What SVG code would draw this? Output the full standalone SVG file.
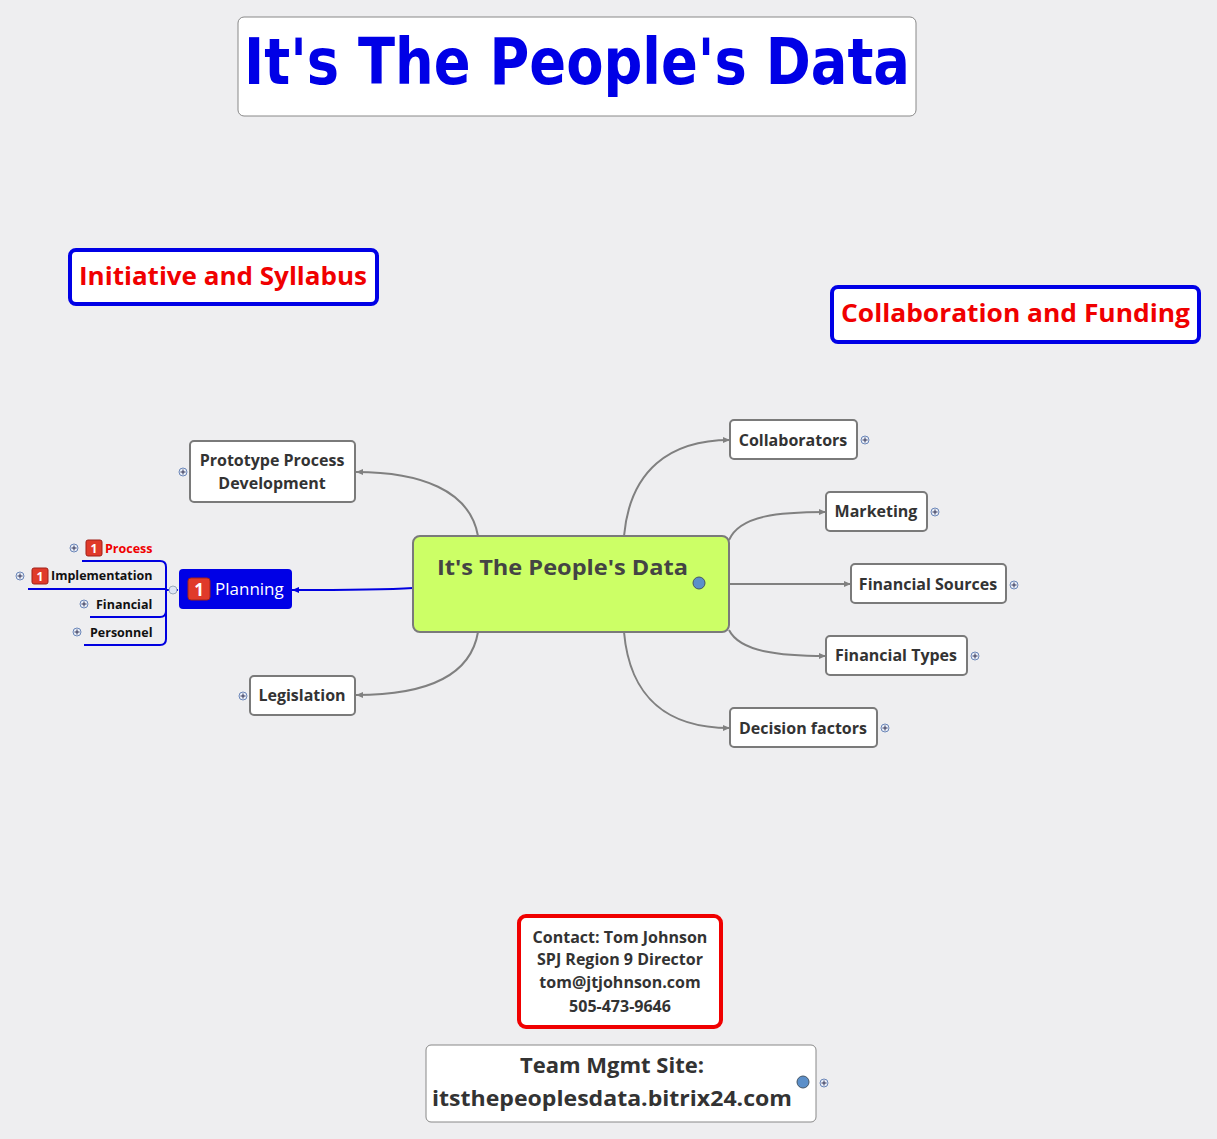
<svg xmlns="http://www.w3.org/2000/svg" width="1217" height="1139" viewBox="0 0 1217 1139">
<style>
text{font-family:"Open Sans","DejaVu Sans",sans-serif;font-weight:bold}
.n{fill:#fff;stroke:#7a7a7a;stroke-width:2}
.t{font-size:16px;fill:#333}
.s{font-size:12.5px;fill:#111}
.c{fill:none;stroke:#808080;stroke-width:2}
.b{fill:none;stroke:#0000e0;stroke-width:2}
.p{fill:#e8eef8;stroke:#6b86b8;stroke-width:1}
.badge{fill:#e03a2a;stroke:#a02018}
</style>
<defs>
<marker id="a" markerWidth="8" markerHeight="8" refX="7" refY="4" orient="auto" markerUnits="userSpaceOnUse"><path d="M0,1 L7,4 L0,7z" fill="#808080"/></marker>
<marker id="ab" markerWidth="8" markerHeight="8" refX="7" refY="4" orient="auto" markerUnits="userSpaceOnUse"><path d="M0,1 L7,4 L0,7z" fill="#0000e0"/></marker>
<g id="plus"><circle r="4" class="p"/><path d="M-2.5,0H2.5M0,-2.5V2.5" stroke="#335" stroke-width="1"/></g>
</defs>
<rect width="1217" height="1139" fill="#eeeef0"/>
<g id="connectors">
<path class="c" d="M478,536 C470,490 420,472 356,472" marker-end="url(#a)"/>
<path class="c" d="M478,632 C470,680 420,695 356,695" marker-end="url(#a)"/>
<path class="c" d="M624,536 C630,470 670,440 730,440" marker-end="url(#a)"/>
<path class="c" d="M729,540 C740,515 780,512 826,512" marker-end="url(#a)"/>
<path class="c" d="M729,584 L851,584" marker-end="url(#a)"/>
<path class="c" d="M729,630 C740,652 780,656 826,656" marker-end="url(#a)"/>
<path class="c" d="M624,632 C630,700 670,728 730,728" marker-end="url(#a)"/>
<path class="b" d="M413,588 C380,590 330,590 292,590" marker-end="url(#ab)"/>
<path class="b" d="M178,590 L166,590 M82,561 H160 Q166,561 166,567 V639 Q166,645 160,645 H84 M28,589 H166 M90,617 H160 Q166,617 166,611"/>
<circle cx="173" cy="590" r="4" fill="#dde6f4" stroke="#9ab"/>
</g>
<g id="title"><rect x="238" y="17" width="678" height="99" rx="6" fill="#fff" stroke="#888"/>
<text x="244" y="84" font-size="64" fill="#0000e6" textLength="666" lengthAdjust="spacingAndGlyphs" style="font-family:'DejaVu Sans',sans-serif">It's The People's Data</text></g>
<g id="initiative"><rect x="70" y="250" width="307" height="54" rx="6" fill="#fff" stroke="#0000e6" stroke-width="4"/>
<text x="79" y="285" font-size="25" fill="#f00000" textLength="288" lengthAdjust="spacingAndGlyphs">Initiative and Syllabus</text></g>
<g id="collab"><rect x="832" y="287" width="367" height="55" rx="6" fill="#fff" stroke="#0000e6" stroke-width="4"/>
<text x="841" y="322" font-size="25" fill="#f00000" textLength="349" lengthAdjust="spacingAndGlyphs">Collaboration and Funding</text></g>
<g id="central"><rect x="413" y="536" width="316" height="96" rx="7" fill="#ccff66" stroke="#7a7a7a" stroke-width="2"/>
<text x="437" y="575" font-size="22" fill="#444" textLength="251" lengthAdjust="spacingAndGlyphs">It's The People's Data</text>
<circle cx="699" cy="583" r="6" fill="#5b8fc9" stroke="#456"/></g>
<g id="prototype"><rect class="n" x="190" y="441" width="165" height="61" rx="4"/>
<text class="t" x="272" y="466" text-anchor="middle">Prototype Process</text><text class="t" x="272" y="489" text-anchor="middle">Development</text><use href="#plus" x="183" y="472"/></g>
<g id="legislation"><rect class="n" x="250" y="676" width="105" height="39" rx="4"/>
<text class="t" x="302" y="701" text-anchor="middle">Legislation</text><use href="#plus" x="243" y="696"/></g>
<g id="planning"><rect x="179" y="569" width="113" height="40" rx="4" fill="#0000e6"/>
<rect class="badge" x="188" y="578" width="22" height="22" rx="3"/><text x="199" y="596" text-anchor="middle" font-size="17" fill="#fff">1</text>
<text x="215" y="595" font-size="17" fill="#fff" style="font-weight:normal">Planning</text></g>
<g id="process"><use href="#plus" x="74" y="548"/><rect class="badge" x="86" y="540" width="16" height="16" rx="2"/><text x="94" y="553" text-anchor="middle" font-size="12" fill="#fff">1</text>
<text x="105" y="553" font-size="12.5" fill="#f00000">Process</text></g>
<g id="implementation"><use href="#plus" x="20" y="576"/><rect class="badge" x="32" y="568" width="16" height="16" rx="2"/><text x="40" y="581" text-anchor="middle" font-size="12" fill="#fff">1</text>
<text class="s" x="51" y="580">Implementation</text></g>
<g id="financial"><use href="#plus" x="84" y="604"/><text class="s" x="96" y="609">Financial</text></g>
<g id="personnel"><use href="#plus" x="77" y="632"/><text class="s" x="90" y="637">Personnel</text></g>
<g id="collaborators"><rect class="n" x="730" y="420" width="127" height="39" rx="4"/><text class="t" x="793" y="446" text-anchor="middle">Collaborators</text><use href="#plus" x="865" y="440"/></g>
<g id="marketing"><rect class="n" x="826" y="492" width="101" height="39" rx="4"/><text class="t" x="876" y="517" text-anchor="middle">Marketing</text><use href="#plus" x="935" y="512"/></g>
<g id="finsources"><rect class="n" x="851" y="564" width="155" height="39" rx="4"/><text class="t" x="928" y="590" text-anchor="middle">Financial Sources</text><use href="#plus" x="1014" y="585"/></g>
<g id="fintypes"><rect class="n" x="826" y="636" width="141" height="39" rx="4"/><text class="t" x="896" y="661" text-anchor="middle">Financial Types</text><use href="#plus" x="975" y="656"/></g>
<g id="decision"><rect class="n" x="730" y="708" width="147" height="39" rx="4"/><text class="t" x="803" y="734" text-anchor="middle">Decision factors</text><use href="#plus" x="885" y="728"/></g>
<g id="contact"><rect x="519" y="916" width="202" height="111" rx="7" fill="#fff" stroke="#f00000" stroke-width="4"/>
<text class="t" x="620" y="943" text-anchor="middle">Contact: Tom Johnson</text>
<text class="t" x="620" y="965" text-anchor="middle">SPJ Region 9 Director</text>
<text class="t" x="620" y="988" text-anchor="middle">tom@jtjohnson.com</text>
<text class="t" x="620" y="1012" text-anchor="middle">505-473-9646</text></g>
<g id="team"><rect x="426" y="1045" width="390" height="77" rx="5" fill="#fff" stroke="#888"/>
<text x="612" y="1073" text-anchor="middle" font-size="22" fill="#333">Team Mgmt Site:</text>
<text x="432" y="1106" font-size="22" fill="#333" textLength="360" lengthAdjust="spacingAndGlyphs">itsthepeoplesdata.bitrix24.com</text>
<circle cx="803" cy="1082" r="6" fill="#5b8fc9" stroke="#456"/><use href="#plus" x="824" y="1083"/></g>
</svg>
